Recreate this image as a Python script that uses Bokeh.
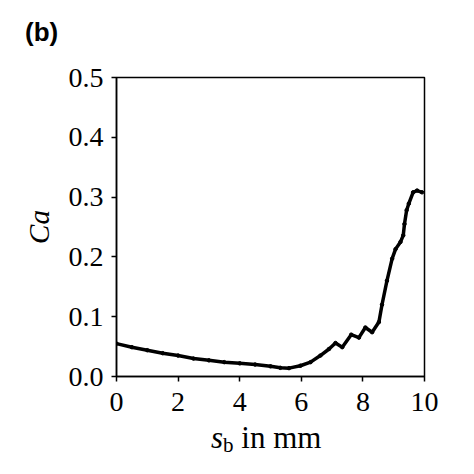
from bokeh.plotting import figure
from bokeh.models import Range1d, FixedTicker, Div
from bokeh.layouts import column
from bokeh.embed import file_html
from bokeh.resources import INLINE

# data
s_b = [0.0, 0.5, 1.0, 1.5, 2.0, 2.5, 3.0, 3.5, 4.0, 4.5, 5.0, 5.32, 5.6, 5.97, 6.3,
       6.62, 6.9, 7.11, 7.33, 7.62, 7.87, 8.08, 8.3, 8.52, 8.62, 8.78, 8.95,
       9.06, 9.22, 9.31, 9.35, 9.42, 9.49, 9.63, 9.76, 9.92]
ca = [0.055, 0.049, 0.044, 0.039, 0.035, 0.030, 0.027, 0.024, 0.022, 0.020, 0.017,
      0.0145, 0.014, 0.018, 0.024, 0.035, 0.046, 0.056, 0.049, 0.070, 0.065,
      0.082, 0.074, 0.091, 0.120, 0.160, 0.197, 0.213, 0.225, 0.236, 0.255,
      0.278, 0.289, 0.308, 0.311, 0.308]
x_ticks = [0, 2, 4, 6, 8, 10]
y_ticks = [0.0, 0.1, 0.2, 0.3, 0.4, 0.5]
panel_tag = "(b)"
x_label_var = "s"
x_label_sub = "b"
x_label_unit = " in mm"
y_label = "Ca"

SERIF = "Liberation Serif"

p = figure(width=458, height=370, output_backend="svg", toolbar_location=None,
           frame_width=308, frame_height=299,
           min_border_left=116, min_border_top=29, min_border_right=34, min_border_bottom=42,
           x_range=Range1d(0, 10), y_range=Range1d(0, 0.5), margin=0)
p.grid.visible = False
p.outline_line_color = "black"
p.outline_line_width = 1.5

for ax in (p.xaxis[0], p.yaxis[0]):
    ax.axis_line_width = 1.5
    ax.axis_line_color = "black"
    ax.major_tick_line_width = 1.5
    ax.major_tick_line_color = "black"
    ax.major_tick_out = 5
    ax.major_tick_in = 0
    ax.minor_tick_line_color = None
    ax.major_label_text_font = SERIF
    ax.major_label_text_font_size = "28px"
    ax.major_label_text_color = "black"

p.xaxis.ticker = FixedTicker(ticks=x_ticks)
p.yaxis.ticker = FixedTicker(ticks=y_ticks)
p.xaxis.major_label_overrides = {t: str(t) for t in x_ticks}
p.yaxis.major_label_overrides = {t: f"{t:.1f}" for t in y_ticks}
p.xaxis.major_label_standoff = 11
p.yaxis.major_label_standoff = 8

p.yaxis.axis_label = y_label
p.yaxis.axis_label_text_font = SERIF
p.yaxis.axis_label_text_font_style = "italic"
p.yaxis.axis_label_text_font_size = "29px"
p.yaxis.axis_label_text_color = "black"
p.yaxis.axis_label_standoff = 11

p.line(s_b, ca, line_color="black", line_width=3.5)
p.scatter(s_b, ca, size=3.5, color="black")

div_b = Div(width=458, height=48, margin=0,
            text=(f'<div style="padding-left:25px;padding-top:19px;'
                  f'font-family:\'Liberation Sans\';font-weight:bold;font-size:26px;'
                  f'line-height:26px;color:black">{panel_tag}</div>'))
div_x = Div(width=458, height=48, margin=0,
            text=(f'<div style="padding-left:211px;padding-top:4px;'
                  f'font-family:\'{SERIF}\';font-size:31px;line-height:31px;color:black;'
                  f'white-space:nowrap">'
                  f'<i>{x_label_var}</i><span style="font-size:21px;position:relative;top:4px">'
                  f'{x_label_sub}</span>{x_label_unit}</div>'))

layout = column(div_b, p, div_x, spacing=0)
open("out.html", "w").write(file_html(layout, INLINE))
